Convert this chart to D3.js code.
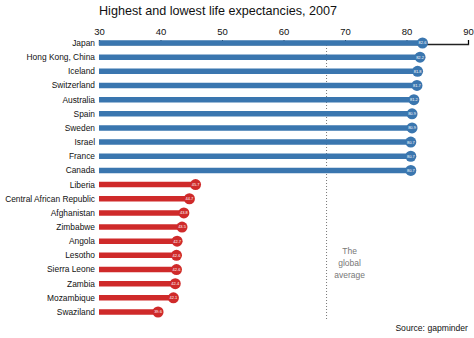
<!DOCTYPE html>
<html>
<head>
<meta charset="utf-8">
<script src="https://cdn.jsdelivr.net/npm/d3@7"></script>
<style>
  body { margin: 0; background: #fff; }
  text { font-family: "Liberation Sans", Arial, sans-serif; }
</style>
</head>
<body>
<div id="chart"></div>
<script>
// top and bottom countries, gapminder 2007
var highCountries = ["Japan", "Hong Kong, China", "Iceland", "Switzerland", "Australia",
  "Spain", "Sweden", "Israel", "France", "Canada"];
var highValues = [82.6, 82.2, 81.8, 81.7, 81.2, 80.9, 80.9, 80.7, 80.7, 80.7];
var lowCountries = ["Liberia", "Central African Republic", "Afghanistan", "Zimbabwe", "Angola",
  "Lesotho", "Sierra Leone", "Zambia", "Mozambique", "Swaziland"];
var lowValues = [45.7, 44.7, 43.8, 43.5, 42.7, 42.6, 42.6, 42.4, 42.1, 39.6];
var globalAverage = 67.0;
var xTicks = [30, 40, 50, 60, 70, 80, 90];

var svgWidth = 474;
var svgHeight = 338;

var margin = { top: 44, right: 6, bottom: 18, left: 99 };

var data = [];
highCountries.forEach(function(c, i) { data.push({ country: c, value: highValues[i], group: "high" }); });
lowCountries.forEach(function(c, i) { data.push({ country: c, value: lowValues[i], group: "low" }); });

var svg = d3.select("#chart").append("svg")
    .attr("width", svgWidth)
    .attr("height", svgHeight);

var xScale = d3.scaleLinear()
    .domain([30, 90])
    .range([margin.left, svgWidth - margin.right]);

var yScale = d3.scalePoint()
    .domain(data.map(d => d.country))
    .range([43, 312]);

var color = { high: "#3a76af", low: "#cf2a2a" };

// title
svg.append("text")
    .attr("x", margin.left)
    .attr("y", 15)
    .attr("font-size", 12.6)
    .attr("fill", "#111")
    .text("Highest and lowest life expectancies, 2007");

// axis on top
var axis = svg.append("g")
    .attr("transform", `translate(0, ${margin.top})`)
    .call(d3.axisTop(xScale).tickValues(xTicks).tickSize(4).tickSizeOuter(4));
axis.selectAll("text").attr("font-size", 9.5).attr("fill", "#111").attr("dy", "-0.2em");
axis.select(".domain").attr("stroke", "#222").attr("stroke-width", 1.3);

// global average line
svg.append("line")
    .attr("x1", xScale(globalAverage))
    .attr("x2", xScale(globalAverage))
    .attr("y1", margin.top + 1)
    .attr("y2", 320)
    .attr("stroke", "#777")
    .attr("stroke-width", 1)
    .attr("stroke-dasharray", "1,2");

svg.append("text")
    .attr("x", xScale(globalAverage) + 23)
    .attr("y", 254)
    .attr("text-anchor", "middle")
    .attr("font-size", 8.5)
    .attr("fill", "#777")
    .selectAll("tspan")
    .data(["The", "global", "average"])
    .enter()
    .append("tspan")
    .attr("x", xScale(globalAverage) + 23)
    .attr("dy", (d, i) => i == 0 ? 0 : 12)
    .text(d => d);

// country labels
svg.selectAll(".label")
    .data(data)
    .enter()
    .append("text")
    .attr("class", "label")
    .attr("x", margin.left - 4)
    .attr("y", d => yScale(d.country))
    .attr("dy", "0.35em")
    .attr("text-anchor", "end")
    .attr("font-size", 8.4)
    .attr("fill", "#111")
    .text(d => d.country);

// bars
svg.selectAll(".bar")
    .data(data)
    .enter()
    .append("line")
    .attr("class", "bar")
    .attr("x1", xScale(30))
    .attr("x2", d => xScale(d.value))
    .attr("y1", d => yScale(d.country))
    .attr("y2", d => yScale(d.country))
    .attr("stroke", d => color[d.group])
    .attr("stroke-width", 5.5);

// dots
svg.selectAll(".dot")
    .data(data)
    .enter()
    .append("circle")
    .attr("class", "dot")
    .attr("cx", d => xScale(d.value))
    .attr("cy", d => yScale(d.country))
    .attr("r", 5.5)
    .attr("fill", d => color[d.group]);

svg.selectAll(".val")
    .data(data)
    .enter()
    .append("text")
    .attr("class", "val")
    .attr("x", d => xScale(d.value))
    .attr("y", d => yScale(d.country))
    .attr("dy", "0.35em")
    .attr("text-anchor", "middle")
    .attr("font-size", 4)
    .attr("fill", "#fff")
    .text(d => d.value.toFixed(1));

// source
svg.append("text")
    .attr("x", svgWidth - 6)
    .attr("y", 331)
    .attr("text-anchor", "end")
    .attr("font-size", 8.6)
    .attr("fill", "#111")
    .text("Source: gapminder");
</script>
</body>
</html>
